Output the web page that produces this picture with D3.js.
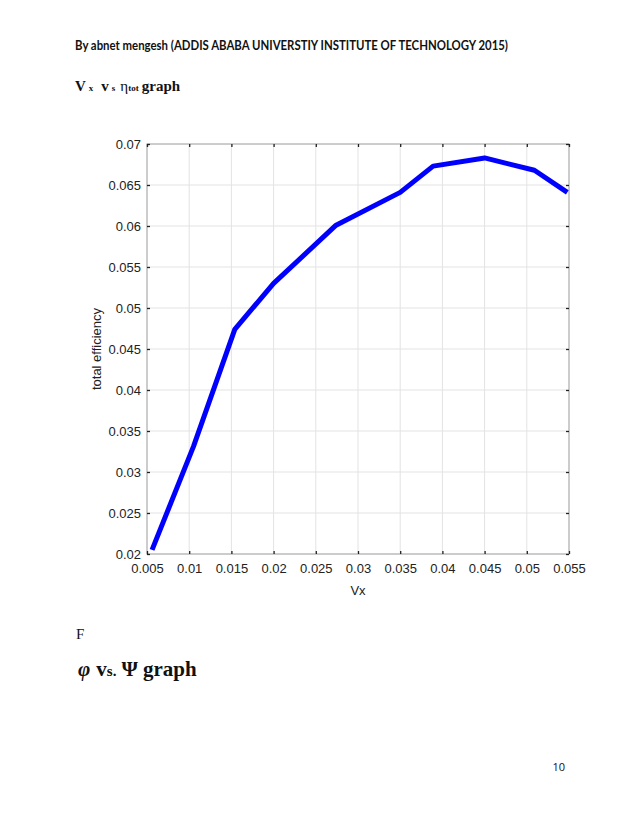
<!DOCTYPE html>
<html>
<head>
<meta charset="utf-8">
<script src="https://cdn.jsdelivr.net/npm/d3@7"></script>
<style>
  body { margin: 0; background: #fff; }
  svg { display: block; }
</style>
</head>
<body>
<div id="page"></div>
<script>
// values
const vx = [0.0056, 0.0105, 0.0154, 0.0200, 0.0274, 0.0350, 0.0389, 0.0450, 0.0509, 0.0548];
const eff = [0.0205, 0.0331, 0.0474, 0.0530, 0.0601, 0.0641, 0.0673, 0.0683, 0.0668, 0.0641];
const xTicks = [0.005, 0.01, 0.015, 0.02, 0.025, 0.03, 0.035, 0.04, 0.045, 0.05, 0.055];
const yTicks = [0.02, 0.025, 0.03, 0.035, 0.04, 0.045, 0.05, 0.055, 0.06, 0.065, 0.07];

const W = 638, H = 826;
const plot = { left: 147, right: 569, top: 144, bottom: 554 };

const svg = d3.select('#page').append('svg')
  .attr('width', W).attr('height', H);

svg.append('rect').attr('width', W).attr('height', H).attr('fill', '#fff');

// page header
svg.append('text')
  .attr('x', 75).attr('y', 50)
  .attr('font-family', 'Lato, "Open Sans", sans-serif')
  .attr('font-weight', 'bold')
  .attr('font-size', 12.5)
  .attr('textLength', 433)
  .attr('lengthAdjust', 'spacingAndGlyphs')
  .attr('fill', '#111')
  .text('By abnet mengesh (ADDIS ABABA UNIVERSTIY INSTITUTE OF TECHNOLOGY 2015)');

// section title
const t1 = svg.append('text')
  .attr('x', 75).attr('y', 91)
  .attr('font-family', '"Liberation Serif", serif')
  .attr('font-weight', 'bold')
  .attr('font-size', 15)
  .attr('fill', '#111');
t1.append('tspan').text('V');
t1.append('tspan').attr('font-size', 9).attr('dx', 3).text('x');
t1.append('tspan').attr('dx', 8).text('v');
t1.append('tspan').attr('font-size', 9).attr('dx', 3).text('s');
t1.append('tspan').attr('dx', 5).attr('font-weight', 'normal').text('η');
t1.append('tspan').attr('font-size', 9).text('tot');
t1.append('tspan').attr('dx', 3).text('graph');

const x = d3.scaleLinear().domain([0.005, 0.055]).range([plot.left, plot.right]);
const y = d3.scaleLinear().domain([0.02, 0.07]).range([plot.bottom, plot.top]);

const g = svg.append('g');

// grid
g.append('g').selectAll('line').data(xTicks).join('line')
  .attr('x1', d => x(d)).attr('x2', d => x(d))
  .attr('y1', plot.top).attr('y2', plot.bottom)
  .attr('stroke', '#e3e3e3').attr('stroke-width', 1);
g.append('g').selectAll('line').data(yTicks).join('line')
  .attr('x1', plot.left).attr('x2', plot.right)
  .attr('y1', d => y(d)).attr('y2', d => y(d))
  .attr('stroke', '#e3e3e3').attr('stroke-width', 1);

// box
g.append('rect')
  .attr('x', plot.left).attr('y', plot.top)
  .attr('width', plot.right - plot.left).attr('height', plot.bottom - plot.top)
  .attr('fill', 'none').attr('stroke', '#b5b5b5').attr('stroke-width', 1.2);

// axes with inside ticks, MATLAB style
const xAxis = g.append('g')
  .attr('transform', `translate(0,${plot.bottom})`)
  .call(d3.axisBottom(x).tickValues(xTicks).tickSizeInner(-3).tickSizeOuter(0).tickPadding(10)
    .tickFormat(d => String(+d.toFixed(3))));
const yAxis = g.append('g')
  .attr('transform', `translate(${plot.left},0)`)
  .call(d3.axisLeft(y).tickValues(yTicks).tickSizeInner(-3).tickSizeOuter(0).tickPadding(6)
    .tickFormat(d => String(+d.toFixed(3))));
const xTop = g.append('g')
  .attr('transform', `translate(0,${plot.top})`)
  .call(d3.axisTop(x).tickValues(xTicks).tickSizeInner(-3).tickSizeOuter(0).tickFormat(''));
const yRight = g.append('g')
  .attr('transform', `translate(${plot.right},0)`)
  .call(d3.axisRight(y).tickValues(yTicks).tickSizeInner(-3).tickSizeOuter(0).tickFormat(''));

[xAxis, yAxis, xTop, yRight].forEach(a => {
  a.select('.domain').remove();
  a.selectAll('.tick line').attr('stroke', '#222').attr('stroke-width', 1.3);
  a.selectAll('.tick text')
    .attr('font-family', '"Liberation Sans", Arial, sans-serif')
    .attr('font-size', 13)
    .attr('fill', '#222');
});

// curve
const line = d3.line().x((d, i) => x(vx[i])).y(d => y(d));
g.append('path')
  .datum(eff)
  .attr('d', line)
  .attr('fill', 'none')
  .attr('stroke', '#0000ff')
  .attr('stroke-width', 5)
  .attr('stroke-linejoin', 'round');

// axis labels
svg.append('text')
  .attr('x', (plot.left + plot.right) / 2).attr('y', 595)
  .attr('text-anchor', 'middle')
  .attr('font-family', '"Liberation Sans", Arial, sans-serif')
  .attr('font-size', 13).attr('fill', '#222')
  .text('Vx');
svg.append('text')
  .attr('transform', `translate(101,${(plot.top + plot.bottom) / 2}) rotate(-90)`)
  .attr('text-anchor', 'middle')
  .attr('font-family', '"Liberation Sans", Arial, sans-serif')
  .attr('font-size', 13).attr('fill', '#222')
  .text('total efficiency');

// text below the chart
svg.append('text')
  .attr('x', 76).attr('y', 639)
  .attr('font-family', '"Liberation Serif", serif')
  .attr('font-size', 15).attr('fill', '#111')
  .text('F');

const t2 = svg.append('text')
  .attr('x', 78).attr('y', 676)
  .attr('font-family', '"Liberation Serif", serif')
  .attr('font-weight', 'bold')
  .attr('font-size', 21)
  .attr('fill', '#111');
t2.append('tspan').attr('font-style', 'italic').text('φ');
t2.append('tspan').attr('dx', 6).text('v');
t2.append('tspan').attr('font-size', 15).text('s.');
t2.append('tspan').attr('dx', 5).text('Ψ graph');

svg.append('text')
  .attr('x', 565).attr('y', 771)
  .attr('text-anchor', 'end')
  .attr('font-family', '"Open Sans", sans-serif')
  .attr('font-size', 11).attr('fill', '#111')
  .text('10');
</script>
</body>
</html>
